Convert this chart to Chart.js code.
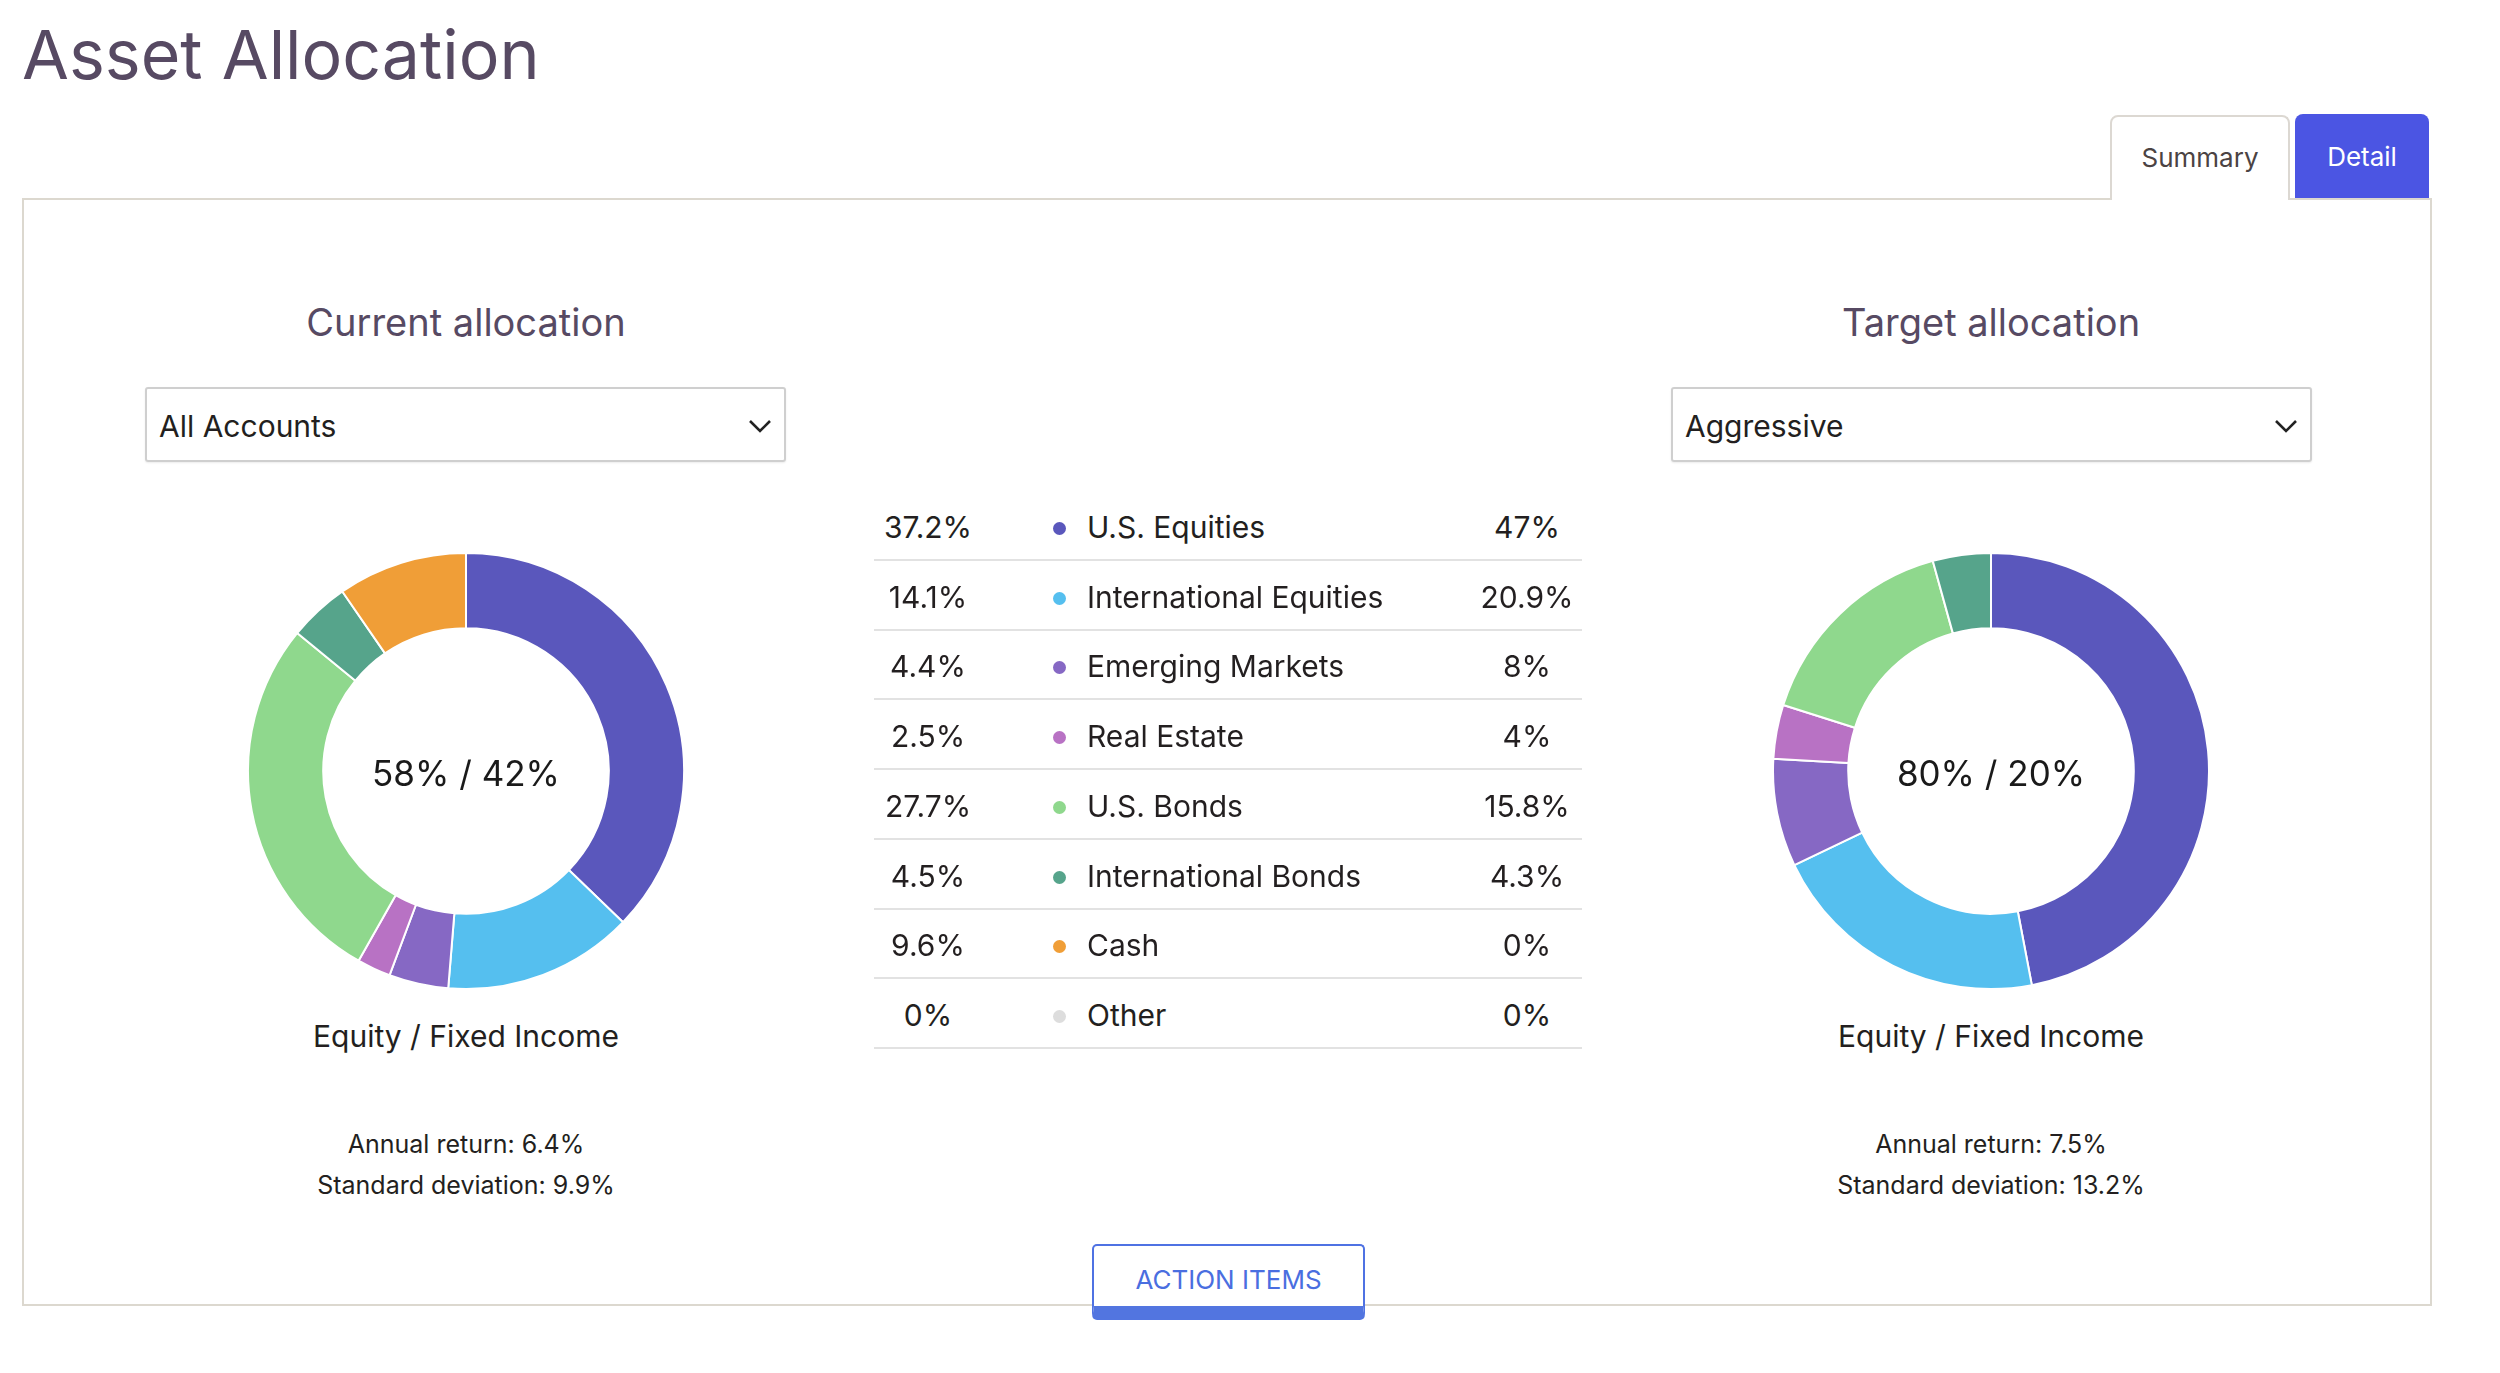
<!DOCTYPE html>
<html>
<head>
<meta charset="utf-8">
<title>Asset Allocation</title>
<script src="https://cdn.jsdelivr.net/npm/chart.js"></script>
<style>
  body { margin: 0; width: 2500px; height: 1373px; background: #fff; position: relative; overflow: hidden;
         font-family: Inter, "Noto Sans", sans-serif; color: #231f20; }
  .abs { position: absolute; }
  .txt { position: absolute; white-space: nowrap; }
  #title { left: 22px; top: 9px; font-size: 68px; line-height: 90px; color: #574a63; }
  #panel { left: 22px; top: 198px; width: 2410px; height: 1108px; border: 2px solid #dcd8cf; box-sizing: border-box; }
  .tab { position: absolute; box-sizing: border-box; border-radius: 8px 8px 0 0; text-align: center; font-size: 26px; }
  #tabSummary { left: 2110px; top: 115px; width: 180px; height: 85px; background: #fff; border: 2px solid #dcd8d2;
                border-bottom: none; color: #4b4343; line-height: 82px; }
  #tabDetail { left: 2295px; top: 114px; width: 134px; height: 84px; background: #4b55e3; color: #fff; line-height: 86px; }
  .select { position: absolute; box-sizing: border-box; height: 75px; width: 641px; top: 387px; border: 2px solid #cfcfcf;
            border-radius: 3px; box-shadow: 0 1px 2px rgba(0,0,0,0.08); font-size: 30px; line-height: 74px; padding-left: 12px; }
  .select svg { position: absolute; right: 12px; top: 30px; }
  canvas { position: absolute; }
  #action { left: 1092px; top: 1244px; width: 273px; height: 76px; box-sizing: border-box; background: #fff;
            border: 2px solid #4f72e3; border-bottom: 14px solid #5275e0; border-radius: 5px;
            color: #4a6ee0; font-size: 26px; text-align: center; line-height: 68px; }
  .row { position: absolute; left: 874px; width: 708px; height: 70px; border-bottom: 2px solid #e2e2e2; box-sizing: border-box; }
  .dot { position: absolute; width: 13px; height: 13px; border-radius: 50%; }
</style>
</head>
<body>

<div id="title" class="txt">Asset Allocation</div>
<div id="panel" class="abs"></div>
<div id="tabSummary" class="tab">Summary</div>
<div id="tabDetail" class="tab">Detail</div>

<div class="select" style="left:145px;">All Accounts
  <svg width="24" height="14" viewBox="0 0 24 14"><polyline points="2,2 12,12 22,2" fill="none" stroke="#222" stroke-width="2.6"/></svg>
</div>
<div class="select" style="left:1671px;">Aggressive
  <svg width="24" height="14" viewBox="0 0 24 14"><polyline points="2,2 12,12 22,2" fill="none" stroke="#222" stroke-width="2.6"/></svg>
</div>

<canvas id="currentChart" width="438" height="438" style="left:247px; top:552px;"></canvas>
<canvas id="targetChart" width="438" height="438" style="left:1772px; top:552px;"></canvas>

<div id="action" class="abs">ACTION ITEMS</div>

<script>
// chart data
var categories = ['U.S. Equities', 'International Equities', 'Emerging Markets', 'Real Estate',
                  'U.S. Bonds', 'International Bonds', 'Cash', 'Other'];
var current = [37.2, 14.1, 4.4, 2.5, 27.7, 4.5, 9.6, 0];
var target = [47, 20.9, 8, 4, 15.8, 4.3, 0, 0];
var equityCount = 4; // first four categories are equity, the rest fixed income
var portfolioNames = ['Current allocation', 'Target allocation'];
var annualReturn = [6.4, 7.5];
var stdDeviation = [9.9, 13.2];

var sliceColors = ['#5a57bc', '#55bfef', '#8668c4', '#b872c4', '#8fd88d', '#56a48b', '#f09e37', '#dddddd'];

function addText(txt, cx, cy, size, color, lineH)
{
  var d = document.createElement('div');
  d.className = 'txt';
  d.textContent = txt;
  d.style.fontSize = size + 'px';
  d.style.lineHeight = lineH + 'px';
  d.style.top = (cy - lineH / 2) + 'px';
  d.style.left = (cx - 400) + 'px';
  d.style.width = '800px';
  d.style.textAlign = 'center';
  if (color) d.style.color = color;
  document.body.appendChild(d);
  return d;
}

function split(values)
{
  var eq = 0, fi = 0;
  for (var i = 0; i < values.length; i++)
  {
    if (i < equityCount) eq += values[i]; else fi += values[i];
  }
  return Math.round(eq) + '% / ' + Math.round(fi) + '%';
}

function makeDonut(id, values)
{
  var ctx = document.getElementById(id);
  return new Chart(ctx,
  {
    type: 'doughnut',
    data: {
      labels: categories,
      datasets: [
        {
          data: values,
          backgroundColor: sliceColors,
          borderColor: '#ffffff',
          borderWidth: 2
        }
      ]
    },
    options: {
      responsive: false,
      animation: false,
      cutout: '65.5%',
      events: [],
      plugins: {
        legend: { display: false },
        tooltip: { enabled: false }
      }
    }
  });
}

var centers = [466, 1991];
var sets = [current, target];

for (var p = 0; p < 2; p++)
{
  var cx = centers[p];
  addText(portfolioNames[p], cx, 322, 38, '#574a63', 50);
  addText(split(sets[p]), cx, 773, 35, '#1a1a1a', 48);
  addText('Equity / Fixed Income', cx, 1036, 30, null, 40);
  addText('Annual return: ' + annualReturn[p] + '%', cx, 1144, 25, null, 34);
  addText('Standard deviation: ' + stdDeviation[p] + '%', cx, 1185, 25, null, 34);
}

makeDonut('currentChart', current);
makeDonut('targetChart', target);

// middle table
for (var i = 0; i < categories.length; i++)
{
  var rowTop = 491 + i * 69.7;
  var row = document.createElement('div');
  row.className = 'row';
  row.style.top = rowTop + 'px';
  document.body.appendChild(row);

  var midY = rowTop + 36;
  addText(current[i] + '%', 928, midY, 30, null, 40);
  addText(target[i] + '%', 1527, midY, 30, null, 40);

  var dot = document.createElement('div');
  dot.className = 'dot';
  dot.style.background = sliceColors[i];
  dot.style.left = (1059 - 6.5) + 'px';
  dot.style.top = (midY - 5) + 'px';
  document.body.appendChild(dot);

  var lab = document.createElement('div');
  lab.className = 'txt';
  lab.textContent = categories[i];
  lab.style.fontSize = '30px';
  lab.style.lineHeight = '40px';
  lab.style.left = '1087px';
  lab.style.top = (midY - 20) + 'px';
  document.body.appendChild(lab);
}
</script>
</body>
</html>
